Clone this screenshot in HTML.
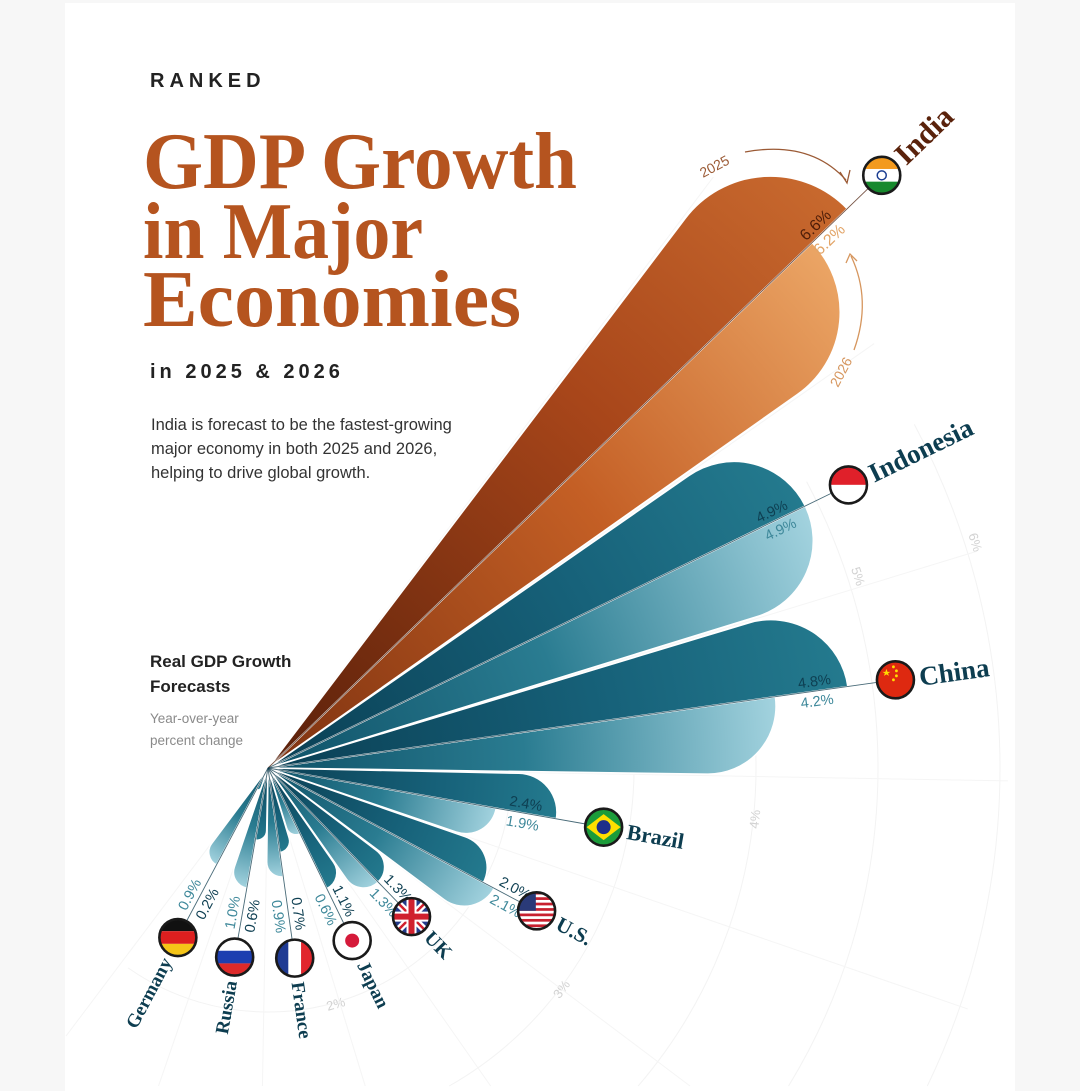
<!DOCTYPE html>
<html><head><meta charset="utf-8">
<style>
html,body{margin:0;padding:0;background:#f7f7f7;overflow:hidden;width:1080px;height:1091px;}
svg{display:block;}
</style></head>
<body>
<svg id="chart" width="1080" height="1091" viewBox="0 0 1080 1091" xmlns="http://www.w3.org/2000/svg">
<defs id="defs"></defs>
<rect x="0" y="0" width="1080" height="1091" fill="#f7f7f7"/>
<rect x="65" y="3" width="950" height="1088" fill="#ffffff"/>
<g>
<text x="150" y="87" font-family="Liberation Sans, sans-serif" font-weight="bold" font-size="20" letter-spacing="5" fill="#222">RANKED</text>
<text x="143" y="188" font-family="Liberation Serif, serif" font-weight="bold" font-size="80" fill="#b5541f" textLength="434" lengthAdjust="spacingAndGlyphs">GDP Growth</text>
<text x="143" y="258" font-family="Liberation Serif, serif" font-weight="bold" font-size="80" fill="#b5541f" textLength="280" lengthAdjust="spacingAndGlyphs">in Major</text>
<text x="143" y="326" font-family="Liberation Serif, serif" font-weight="bold" font-size="80" fill="#b5541f" textLength="378" lengthAdjust="spacingAndGlyphs">Economies</text>
<text x="150" y="378" font-family="Liberation Sans, sans-serif" font-weight="bold" font-size="20" letter-spacing="4" fill="#222">in 2025 &amp; 2026</text>
<text font-family="Liberation Sans, sans-serif" font-size="16.5" fill="#333">
<tspan x="151" y="430">India is forecast to be the fastest-growing</tspan>
<tspan x="151" y="454">major economy in both 2025 and 2026,</tspan>
<tspan x="151" y="478">helping to drive global growth.</tspan>
</text>
<text font-family="Liberation Sans, sans-serif" font-weight="bold" font-size="17" fill="#222">
<tspan x="150" y="667">Real GDP Growth</tspan>
<tspan x="150" y="692">Forecasts</tspan>
</text>
<text font-family="Liberation Sans, sans-serif" font-size="13.5" fill="#8a8a8a">
<tspan x="150" y="723">Year-over-year</tspan>
<tspan x="150" y="745">percent change</tspan>
</text>
</g>
<g id="grid"></g>
<g id="petals"></g>
<g id="overlay"></g>
<g>
<path d="M745,152 Q810,140 846,180" fill="none" stroke="#9b5a35" stroke-width="1.3"/>
<path d="M840,172 L847,183 L850,170" fill="none" stroke="#9b5a35" stroke-width="1.3"/>
<text x="0" y="0" transform="translate(703,178) rotate(-28)" font-family="Liberation Sans, sans-serif" font-size="14" fill="#9b5a35">2025</text>
<path d="M854,350 Q872,300 851,256" fill="none" stroke="#d6965e" stroke-width="1.3"/>
<path d="M846,263 L850,254 L857,261" fill="none" stroke="#d6965e" stroke-width="1.3"/>
<text x="0" y="0" transform="translate(838,388) rotate(-62)" font-family="Liberation Sans, sans-serif" font-size="14" fill="#d6965e">2026</text>
</g>
</svg>
<script>
const countries = ['India','Indonesia','China','Brazil','U.S.','UK','Japan','France','Russia','Germany'];
const v2025 = [6.6,4.9,4.8,2.4,2.0,1.3,1.1,0.7,0.6,0.2];
const v2026 = [6.2,4.9,4.2,1.9,2.1,1.3,0.6,0.9,1.0,0.9];
const gridTicks = [2,3,4,5,6];
const gridTickLabels = ['2%','3%','4%','5%','6%'];

const NS='http://www.w3.org/2000/svg';
const OX=268, OY=768, PX=122, START=-44, STEP=18, ALPHA=8.8, YMAX=1086;
const rad=d=>d*Math.PI/180;
const deg=r=>r*180/Math.PI;
const rScale=v=>v*PX;
const angleOf=i=>START+STEP*i;
const pt=(r,a)=>[OX+r*Math.cos(rad(a)), OY+r*Math.sin(rad(a))];
function mk(tag,attrs,parent){const e=document.createElementNS(NS,tag);for(const k in attrs)e.setAttribute(k,attrs[k]);if(parent)parent.appendChild(e);return e;}
const defs=document.getElementById('defs');
const grid=document.getElementById('grid');
const petals=document.getElementById('petals');
const overlay=document.getElementById('overlay');

const tickAng={2:74,3:37,4:6,5:-18,6:-17.7};
gridTicks.forEach((t,k)=>{
  const r=rScale(t);
  const a0=-28;
  const lim=YMAX-OY;
  const a1 = r>lim ? deg(Math.asin(lim/r)) : 125;
  const p0=pt(r,a0),p1=pt(r,a1);
  const arc=mk('path',{d:`M${p0[0]},${p0[1]} A${r},${r} 0 0 1 ${p1[0]},${p1[1]}`,fill:'none',stroke:'#f3f3f3','stroke-width':1},grid);
  
  
  const a=tickAng[t];
  const p=pt(r+6,a);
  let rot=a+90; if(rot>90) rot-=180;
  const tx=mk('text',{x:0,y:0,transform:`translate(${p[0]},${p[1]}) rotate(${rot})`,'text-anchor':'middle','font-family':'Liberation Sans, sans-serif','font-size':13,fill:'#d2d2d2'},grid);
  tx.textContent=gridTickLabels[k];
  
  
});
for(let i=0;i<=countries.length;i++){
  const a=angleOf(i)-STEP/2;
  let R=740;
  const s=Math.sin(rad(a)), c=Math.cos(rad(a));
  if(s>0) R=Math.min(R,(YMAX-OY)/s);
  if(c<0) R=Math.min(R,(OX-66)/(-c));
  const p0=pt(60,a),p1=pt(R,a);
  const ln=mk('line',{x1:p0[0],y1:p0[1],x2:p1[0],y2:p1[1],stroke:'#f5f5f5','stroke-width':1},grid);
  
  
}

function petalPath(L,theta,s){
  const sa=Math.sin(rad(ALPHA));
  const d=L/(1+sa), w=d*sa, t=d*Math.cos(rad(ALPHA));
  const T=pt(t,theta+s*ALPHA), E=pt(L,theta);
  const sweep = s<0?1:0;
  return `M${OX},${OY} L${T[0]},${T[1]} A${w},${w} 0 0 ${sweep} ${E[0]},${E[1]} Z`;
}
function grad(id,L,stops){
  const g=mk('radialGradient',{id:id,gradientUnits:'userSpaceOnUse',cx:OX,cy:OY,r:Math.max(L,1)},defs);
  stops.forEach(s=>mk('stop',{offset:s[0],'stop-color':s[1]},g));
}

function drawFlag(name,cx,cy,parent){
  const g=mk('g',{},parent);
  
  
  const id='clip'+name.replace(/\W/g,'');
  const cp=mk('clipPath',{id:id},defs); mk('circle',{cx:cx,cy:cy,r:18},cp);
  const f=mk('g',{'clip-path':`url(#${id})`},g);
  const x=cx-19,y=cy-19,W=38,H=38;
  const R=(x0,y0,w,h,c)=>mk('rect',{x:x0,y:y0,width:w,height:h,fill:c},f);
  switch(name){
    case 'India': R(x,y,W,H/3,'#f39a1e');R(x,y+H/3,W,H/3,'#fff');R(x,y+2*H/3,W,H/3,'#17892d');mk('circle',{cx:cx,cy:cy,r:4.5,fill:'none',stroke:'#1b3d91','stroke-width':1.5},f);break;
    case 'Indonesia': R(x,y,W,H/2,'#e0202a');R(x,y+H/2,W,H/2,'#fff');break;
    case 'China': R(x,y,W,H,'#de2910');mk('polygon',{points:`${cx-9},${cy-11} ${cx-6.5},${cy-4} ${cx-13},${cy-8} ${cx-5},${cy-8} ${cx-11.5},${cy-4}`,fill:'#ffde00'},f);
      [[-2,-13],[1,-9],[1,-4],[-2,0]].forEach(p=>mk('circle',{cx:cx+p[0],cy:cy+p[1],r:1.4,fill:'#ffde00'},f));break;
    case 'Brazil': R(x,y,W,H,'#1b9c3a');mk('polygon',{points:`${cx},${cy-13} ${cx+17},${cy} ${cx},${cy+13} ${cx-17},${cy}`,fill:'#fedf00'},f);mk('circle',{cx:cx,cy:cy,r:7,fill:'#1d2f8a'},f);break;
    case 'U.S.': for(let k=0;k<7;k++)R(x,y+k*H/7,W,H/14,'#c8202f');R(x,y,W*0.48,H*0.5,'#2a3a78');break;
    case 'UK': R(x,y,W,H,'#233a8a');
      mk('path',{d:`M${x},${y} L${x+W},${y+H} M${x+W},${y} L${x},${y+H}`,stroke:'#fff','stroke-width':7},f);
      mk('path',{d:`M${x},${y} L${x+W},${y+H} M${x+W},${y} L${x},${y+H}`,stroke:'#d0202e','stroke-width':2.5},f);
      R(cx-5,y,10,H,'#fff');R(x,cy-5,W,10,'#fff');R(cx-3,y,6,H,'#d0202e');R(x,cy-3,W,6,'#d0202e');break;
    case 'Japan': R(x,y,W,H,'#fff');mk('circle',{cx:cx,cy:cy,r:7,fill:'#d51a3a'},f);break;
    case 'France': R(x,y,W/3,H,'#1f3a93');R(x+W/3,y,W/3,H,'#fff');R(x+2*W/3,y,W/3,H,'#e1262d');break;
    case 'Russia': R(x,y,W,H/3,'#fff');R(x,y+H/3,W,H/3,'#1d3fb0');R(x,y+2*H/3,W,H/3,'#dd2a2a');break;
    case 'Germany': R(x,y,W,H/3,'#111');R(x,y+H/3,W,H/3,'#dd1f1f');R(x,y+2*H/3,W,H/3,'#f5c518');break;
  }
  mk('circle',{cx:cx,cy:cy,r:18.5,fill:'none',stroke:'#1a1a1a','stroke-width':2.6},g);
}

countries.forEach((name,i)=>{
  const th=angleOf(i);
  const isIndia = i===0;
  const L25=rScale(v2025[i]), L26=rScale(v2026[i]);
  const key=name.toLowerCase().replace(/\W/g,'');
  const s25 = isIndia?[[0,'#5a200a'],[0.6,'#a8461a'],[1,'#c8692e']]:[[0,'#0a3f54'],[0.6,'#17627a'],[1,'#247a8e']];
  const s26 = isIndia?[[0,'#7e3210'],[0.55,'#c45f25'],[1,'#eba565']]:[[0,'#0f5268'],[0.5,'#2a7c91'],[1,'#a3d3df']];
  grad('g25'+i,L25,s25); grad('g26'+i,L26,s26);
  const cg=mk('g',{},petals);
  
  
  const p26=mk('path',{d:petalPath(L26,th,1),fill:`url(#g26${i})`,stroke:'#fff','stroke-width':1.6,'stroke-linejoin':'round'},cg);
  
  
  const p25=mk('path',{d:petalPath(L25,th,-1),fill:`url(#g25${i})`,stroke:'#fff','stroke-width':1.6,'stroke-linejoin':'round'},cg);
  
  

  const maxL=Math.max(L25,L26);
  const flagR=Math.max(maxL+48,192);
  const fp=pt(flagR-19,th);
  const ld=mk('line',{x1:OX,y1:OY,x2:fp[0],y2:fp[1],stroke:isIndia?'#4a1c08':'#0d3a4c','stroke-width':0.9,opacity:0.75},overlay);
  
  

  const flip = th>90;
  const rot = flip? th-180 : th;
  const labelEnd = maxL>280 ? maxL-16 : Math.max(maxL+35,165);
  const c25 = isIndia?'#4e1d08':'#0e3f52';
  const c26 = isIndia?'#e2a467':'#3e889a';
  const lg=mk('g',{transform:`translate(${OX},${OY}) rotate(${rot})`},overlay);
  const x = flip? -labelEnd : labelEnd;
  const anchor = flip? 'start':'end';
  const t25=mk('text',{x:x,y:flip?15:-5,'text-anchor':anchor,'font-family':'Liberation Sans, sans-serif','font-size':isIndia?16:14.5,fill:c25},lg);
  t25.textContent=v2025[i].toFixed(1)+'%';
  
  
  const t26=mk('text',{x:x,y:flip?-5:15,'text-anchor':anchor,'font-family':'Liberation Sans, sans-serif','font-size':isIndia?16:14.5,fill:c26},lg);
  t26.textContent=v2026[i].toFixed(1)+'%';
  
  

  const fc=pt(flagR,th);
  drawFlag(name,fc[0],fc[1],overlay);

  const fs=Math.round(17+2*Math.max(v2025[i],v2026[i]));
  const nx = flip? -(flagR+24) : flagR+24;
  const nt=mk('text',{x:nx,y:fs*0.35,'text-anchor':flip?'end':'start','font-family':'Liberation Serif, serif','font-weight':'bold','font-size':fs,fill:isIndia?'#5a220b':'#0d3d50'},lg);
  nt.textContent=name;
  
  
});
</script>
</body></html>
